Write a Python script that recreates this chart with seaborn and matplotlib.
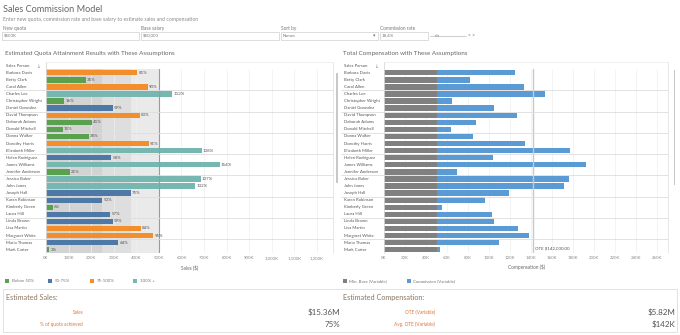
import numpy as np
import pandas as pd
import matplotlib
matplotlib.use("Agg")
import matplotlib.pyplot as plt
import seaborn as sns
from matplotlib import transforms
from matplotlib.patches import Rectangle, Circle
from matplotlib.lines import Line2D

# ---------------- data ----------------
names = ["Barbara Davis", "Betty Clark", "Carol Allen", "Charles Lee", "Christopher Wright",
         "Daniel Gonzalez", "David Thompson", "Deborah Adams", "Donald Mitchell", "Donna Walker",
         "Dorothy Harris", "Elizabeth Miller", "Helen Rodriguez", "James Williams", "Jennifer Anderson",
         "Jessica Baker", "John Jones", "Joseph Hall", "Karen Robinson", "Kimberly Green",
         "Laura Hill", "Linda Brown", "Lisa Martin", "Margaret White", "Maria Thomas", "Mark Carter"]
attain_pct = [81, 35, 90, 112, 16, 59, 83, 41, 15, 38, 91, 138, 58, 154, 21,
              137, 132, 75, 50, 6, 57, 59, 84, 95, 64, 3]
bands = ["75-100%", "Below 50%", "75-100%", "100% +", "Below 50%",
         "50-75%", "75-100%", "Below 50%", "Below 50%", "Below 50%",
         "75-100%", "100% +", "50-75%", "100% +", "Below 50%",
         "100% +", "100% +", "50-75%", "50-75%", "Below 50%",
         "50-75%", "50-75%", "75-100%", "75-100%", "50-75%", "Below 50%"]
commission_k = [74.5, 32.2, 82.8, 103.0, 14.7, 54.3, 76.4, 37.7, 13.8, 35.0,
                83.7, 127.0, 53.4, 141.7, 19.3, 126.0, 121.4, 69.0, 46.0, 5.5,
                52.4, 54.3, 77.3, 87.4, 58.9, 2.8]
quota_k = 500
base_k = 50
ote_k = 142
band_order = ["Below 50%", "50-75%", "75-100%", "100% +"]
band_colors = ["#59a14f", "#4e79a7", "#f28e2b", "#76b7b2"]
sales_ticks = list(range(0, 1300, 100))
comp_ticks = list(range(0, 280, 20))

# ---------------- setup ----------------
sns.set_theme(style="white")
plt.rcParams["font.family"] = ["Lato", "DejaVu Sans"]

W, H = 680, 335
fig = plt.figure(figsize=(6.8, 3.35), dpi=100)
fig.patch.set_facecolor("white")


def rect(x0, y0, x1, y1):
    return [x0 / W, 1 - y1 / H, (x1 - x0) / W, (y1 - y0) / H]


def fx(x):
    return x / W


def fy(y):
    return 1 - y / H


def ftext(x, y, s, **kw):
    kw.setdefault("va", "center")
    fig.text(fx(x), fy(y), s, **kw)


def fline(x0, y0, x1, y1, **kw):
    fig.add_artist(Line2D([fx(x0), fx(x1)], [fy(y0), fy(y1)], transform=fig.transFigure, **kw))


def frect(x0, y0, x1, y1, **kw):
    fig.add_artist(Rectangle((fx(x0), fy(y1)), (x1 - x0) / W, (y1 - y0) / H,
                             transform=fig.transFigure, **kw))


TXT = "#555555"
LIGHT = "#8a8a8a"

# ---------------- header ----------------
ftext(3, 9, "Sales Commission Model", fontsize=6.6, color="#666666")
ftext(3, 19.5, "Enter new quota, commission rate and base salary to estimate sales and compensation",
      fontsize=3.7, color="#8a8a8a")
ftext(3, 28.5, "New quota", fontsize=3.4, color="#777777")
ftext(141, 28.5, "Base salary", fontsize=3.4, color="#777777")
ftext(281, 28.5, "Sort by", fontsize=3.4, color="#777777")
ftext(380, 28.5, "Commission rate", fontsize=3.4, color="#777777")
for x0, x1, t in [(2, 139, "$500K"), (141, 279, "$50,000"), (281, 378, "Names"), (380, 428, "18.4%")]:
    frect(x0, 32, x1, 39.5, facecolor="white", edgecolor="#cfcfcf", lw=0.5)
    ftext(x0 + 2, 35.8, t, fontsize=3.2, color="#777777")
ftext(373, 35.8, "\u25be", fontsize=3.5, color="#777777", family=["DejaVu Sans"])
fline(430, 35.8, 466, 35.8, color="#bbbbbb", lw=0.5)
fig.add_artist(Circle((fx(437), fy(35.8)), 1.6 / W, transform=fig.transFigure,
                      facecolor="white", edgecolor="#999999", lw=0.5))
ftext(468, 35.8, "< >", fontsize=3.6, color="#777777")

ftext(5, 53.5, "Estimated Quota Attainment Results with These Assumptions", fontsize=4.5, color="#666666")
ftext(343, 53.5, "Total Compensation with These Assumptions", fontsize=4.5, color="#666666")

# ---------------- left panel ----------------
df = pd.DataFrame({"name": names, "pct": attain_pct, "band": bands})
df["sales"] = df["pct"] / 100 * quota_k

BW = 0.76
axL = fig.add_axes(rect(46, 69.2, 333, 253.2))
axL.axvspan(0, 250, color="#d3d3d3", zorder=0, lw=0)
axL.axvspan(250, 375, color="#dedede", zorder=0, lw=0)
axL.axvspan(375, 500, color="#eaeaea", zorder=0, lw=0)
for t in sales_ticks[1:]:
    axL.axvline(t, color="#efefef", lw=0.5, zorder=0.5)
sns.barplot(data=df, y="name", x="sales", hue="band", hue_order=band_order,
            palette=band_colors, dodge=False, width=BW, legend=False,
            ax=axL, orient="h", zorder=3, saturation=1, linewidth=0, edgecolor="none")
axL.axvline(quota_k, color="#9a9a9a", lw=0.8, zorder=4)
for i, (s, p) in enumerate(zip(df["sales"], df["pct"])):
    axL.text(s + 5, i, f"{p}%", fontsize=3.2, color=TXT, va="center", ha="left", zorder=5)
axL.set_xlim(0, 1271)
axL.set_ylim(len(names) - 0.5, -0.5)
axL.set_xticks(sales_ticks)
axL.set_xticklabels([f"{t:,}K" for t in sales_ticks], fontsize=3.2, color=LIGHT)
axL.tick_params(axis="x", length=0, pad=2)
axL.set_yticks([])
axL.set_ylabel("")
axL.set_xlabel("Sales ($)", fontsize=3.4, color="#666666", labelpad=3)
for sp in axL.spines.values():
    sp.set_visible(False)

# ---------------- right panel ----------------
dfc = pd.DataFrame({"name": names, "commission": commission_k})
dfc["base"] = base_k
dfc["total"] = dfc["base"] + dfc["commission"]

axR = fig.add_axes(rect(384, 69.2, 668, 253.2))
for t in comp_ticks[1:]:
    axR.axvline(t, color="#efefef", lw=0.5, zorder=0.5)
sns.barplot(data=dfc, y="name", x="total", color="#5b9bd5", width=BW,
            ax=axR, orient="h", zorder=3, saturation=1, linewidth=0, edgecolor="none")
sns.barplot(data=dfc, y="name", x="base", color="#808080", width=BW,
            ax=axR, orient="h", zorder=3.5, saturation=1, linewidth=0, edgecolor="none")
axR.axvline(ote_k, color="#c8c8c8", lw=1.0, zorder=4)
axR.text(ote_k + 1.5, len(names) - 1.1, "OTE $142,000.00", fontsize=3.2, color=TXT,
         va="center", ha="left", zorder=5)
axR.set_xlim(0, 270)
axR.set_ylim(len(names) - 0.5, -0.5)
axR.set_xticks(comp_ticks)
axR.set_xticklabels([f"{t}K" for t in comp_ticks], fontsize=3.2, color=LIGHT)
axR.tick_params(axis="x", length=0, pad=2)
axR.set_yticks([])
axR.set_ylabel("")
axR.set_xlabel("Compensation ($)", fontsize=3.4, color="#666666", labelpad=3)
for sp in axR.spines.values():
    sp.set_visible(False)

# ---------------- row headers, separators, frames ----------------
for ax, xlab, xl, xr in [(axL, 6, 4, 333), (axR, 344, 341, 668)]:
    tr = transforms.blended_transform_factory(fig.transFigure, ax.transData)
    for i, n in enumerate(names):
        fig.text(fx(xlab), i, n, transform=tr, fontsize=3.1, color=TXT, va="center", ha="left")
    for k in range(2, len(names) - 1, 3):
        fig.add_artist(Line2D([fx(xl), fx(xr)], [k + 0.5, k + 0.5], transform=tr,
                              color="#dddddd", lw=0.6))

fline(46, 62, 46, 253.2, color="#d8d8d8", lw=0.6)
fline(333, 62, 333, 253.2, color="#e4e4e4", lw=0.6)
fline(46, 62, 333, 62, color="#eeeeee", lw=0.6)
fline(384, 62, 384, 253.2, color="#d8d8d8", lw=0.6)
fline(668, 62, 668, 253.2, color="#e4e4e4", lw=0.6)
fline(384, 62, 668, 62, color="#eeeeee", lw=0.6)
ftext(6, 66, "Sales Person", fontsize=3.1, color="#555555")
ftext(36, 66, "\u2193", fontsize=3.3, color="#777777", family=["DejaVu Sans"])
ftext(344, 66, "Sales Person", fontsize=3.1, color="#555555")
ftext(374, 66, "\u2193", fontsize=3.3, color="#777777", family=["DejaVu Sans"])
# scrollbars
frect(336, 73, 337.5, 183, facecolor="#c8c8c8", edgecolor="none")
frect(673.5, 70, 675, 185, facecolor="#c8c8c8", edgecolor="none")

# ---------------- legends ----------------
for x, lab, col in zip([5, 48, 90, 133], band_order, band_colors):
    frect(x, 279, x + 4, 283, facecolor=col, edgecolor="none")
    ftext(x + 6.5, 281.2, lab, fontsize=3.2, color="#777777")
for x, lab, col in [(343, "Min. Base (Variable)", "#808080"), (407, "Commission (Variable)", "#5b9bd5")]:
    frect(x, 279, x + 4, 283, facecolor=col, edgecolor="none")
    ftext(x + 6.5, 281.2, lab, fontsize=3.2, color="#777777")

# ---------------- summary box ----------------
frect(3, 289, 677, 332, facecolor="white", edgecolor="#dddddd", lw=0.6)
HEAD = "#8c7560"
LAB = "#d9793c"
VAL = "#555555"
ftext(6, 297.5, "Estimated Sales:", fontsize=5.2, color=HEAD)
ftext(343, 297.5, "Estimated Compensation:", fontsize=5.2, color=HEAD)
ftext(83, 312, "Sales", fontsize=3.4, color=LAB, ha="right")
ftext(83, 324.5, "% of quota achieved", fontsize=3.4, color=LAB, ha="right")
ftext(340, 312, "$15.36M", fontsize=5.8, color=VAL, ha="right")
ftext(340, 324.5, "75%", fontsize=5.8, color=VAL, ha="right")
ftext(435, 312, "OTE (Variable)", fontsize=3.4, color=LAB, ha="right")
ftext(435, 324.5, "Avg. OTE (Variable)", fontsize=3.4, color=LAB, ha="right")
ftext(675, 312, "$5.82M", fontsize=5.8, color=VAL, ha="right")
ftext(675, 324.5, "$142K", fontsize=5.8, color=VAL, ha="right")

fig.savefig("out.png", dpi=100, facecolor="white")
